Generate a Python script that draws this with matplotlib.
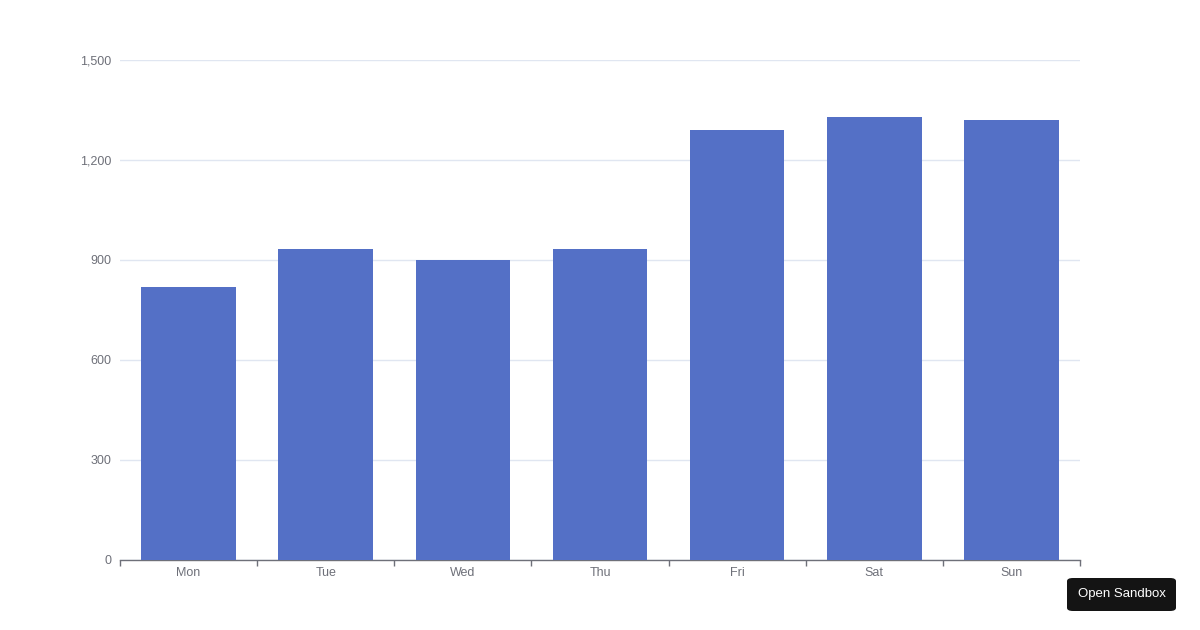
import matplotlib
matplotlib.use("Agg")
import matplotlib.pyplot as plt
from matplotlib.patches import FancyBboxPatch

categories = ["Mon", "Tue", "Wed", "Thu", "Fri", "Sat", "Sun"]
values = [820, 932, 901, 934, 1290, 1330, 1320]
yticks = [0, 300, 600, 900, 1200, 1500]

plt.rcParams['font.family'] = ['Liberation Sans', 'DejaVu Sans']

W, H = 1200, 630
fig = plt.figure(figsize=(12, 6.3), dpi=100)
ax = fig.add_axes([120 / W, 1 - 560 / H, 960 / W, 500 / H])

x = list(range(len(categories)))
ax.bar(x, values, width=0.69, color="#5470c6", zorder=3)
ax.set_xlim(-0.5, len(categories) - 0.5)
ax.set_ylim(0, 1500)

ax.set_yticks(yticks)
ax.set_yticklabels([f"{v:,}" for v in yticks])
ax.yaxis.grid(True, color="#E0E6F1", linewidth=1, zorder=0)
ax.tick_params(axis="y", length=0, pad=6, labelsize=9, labelcolor="#6E7079")

ax.set_xticks(x)
ax.set_xticklabels(categories)
ax.set_xticks([i - 0.5 for i in range(len(categories) + 1)], minor=True)
ax.tick_params(axis="x", which="major", length=0, pad=5, labelsize=9, labelcolor="#6E7079")
ax.tick_params(axis="x", which="minor", length=4, color="#6E7079", width=1)

for s in ["top", "right", "left"]:
    ax.spines[s].set_visible(False)
ax.spines["bottom"].set_color("#6E7079")
ax.spines["bottom"].set_linewidth(1)

# "Open Sandbox" button
bx0, by0, bw, bh = 1067 / W, 1 - 611 / H, 109 / W, 33 / H
btn = FancyBboxPatch((bx0, by0), bw, bh, boxstyle="round,pad=0,rounding_size=0.005",
                     transform=fig.transFigure, facecolor="#141414", edgecolor="none")
fig.patches.append(btn)
fig.text(bx0 + bw / 2, by0 + bh / 2, "Open Sandbox", color="white", fontsize=9.5,
         ha="center", va="center")

fig.savefig("out.png", dpi=100)
